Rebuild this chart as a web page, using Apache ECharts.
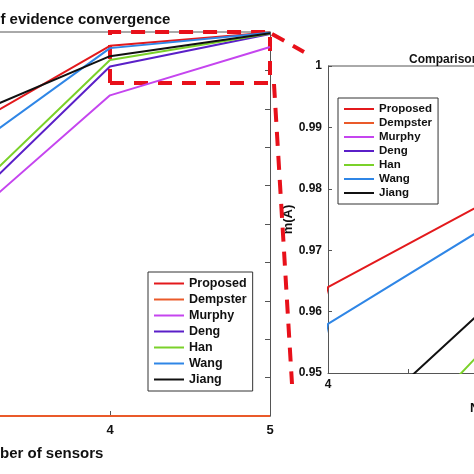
<!DOCTYPE html><html><head><meta charset="utf-8">
<script src="https://cdn.jsdelivr.net/npm/echarts@6/dist/echarts.min.js"></script>
<style>html,body{margin:0;padding:0;background:#fff}#c{width:474px;height:474px}</style></head><body><div id="c"></div>
<script>
const sensors=[2,3,4,5];
const names=['Proposed','Dempster','Murphy','Deng','Han','Wang','Jiang'];
const colors=['#e3191c','#ea5a2a','#c545ef','#5a1fc8','#7ad12a','#2f86e6','#111111'];
const proposed=[0.42,0.724,0.964,0.999];
const dempster=[0,0,0,0];
const murphy=[0.22,0.47,0.835,0.961];
const deng=[0.24,0.505,0.91,0.995];
const han=[0.25,0.526,0.927,0.996];
const wang=[0.36,0.656,0.958,0.998];
const jiang=[0.55,0.76,0.937,0.997];
const vals=[proposed,dempster,murphy,deng,han,wang,jiang];
const F='Liberation Sans';
const series=[];
vals.forEach((v,i)=>{
  [0,1].forEach(g=>{
    const s={name:names[i],type:'line',xAxisIndex:g,yAxisIndex:g*2,data:sensors.map((x,j)=>[x,v[j]]),
      symbol:'none',lineStyle:{width:2,color:colors[i]},itemStyle:{color:colors[i]},clip:true,z:g?3:2};
    if(i===1&&g===0){s.markArea={silent:true,itemStyle:{color:'rgba(0,0,0,0)',borderColor:'#e8101a',borderWidth:4,borderType:[14,10]},data:[[{coord:[4,0.867]},{coord:[5,1]}]]};}
    series.push(s);
  });
});
const chart=echarts.init(document.getElementById('c'));
const lg=(l,t)=>({orient:'vertical',left:l,top:t,data:names,backgroundColor:'#fff',borderColor:'#333',borderWidth:1,padding:[5,6],itemGap:2,itemWidth:30,itemHeight:2,icon:'rect',textStyle:{fontFamily:F,fontWeight:'bold',fontSize:11.5,color:'#111'}});
const axT={fontFamily:F,fontWeight:'bold',color:'#111'};
chart.setOption({
  animation:false,
  title:[{text:'Comparison of evidence convergence',left:30,textAlign:'center',top:7,textStyle:Object.assign({fontSize:15},axT)},
         {text:'Comparison of evidence convergence',left:404,top:49,textStyle:Object.assign({fontSize:12},axT)},
         {text:'Number of sensors',left:30,textAlign:'center',top:441,textStyle:Object.assign({fontSize:15},axT)},
         {text:'Number of sensors',left:465,top:397,textStyle:Object.assign({fontSize:13},axT)}],
  legend:[Object.assign(lg(148,272),{itemGap:3,textStyle:Object.assign({fontSize:12.5},axT)}),lg(338,98)],
  grid:[{left:0,right:204,top:32,bottom:58},{left:328,right:0,top:66,bottom:101}],
  xAxis:[{gridIndex:0,type:'value',min:3.3125,max:5,name:'',
      axisLine:{onZero:false,lineStyle:{color:'#555'}},axisTick:{inside:true,length:5,customValues:[4,5],lineStyle:{color:'#555'}},splitLine:{show:false},
      axisLabel:{fontFamily:F,fontSize:13,fontWeight:'bold',color:'#111',margin:8,customValues:[4,5]}},
    {gridIndex:1,type:'value',min:4,max:4.365,name:'',
      axisLine:{onZero:false,lineStyle:{color:'#555'}},axisTick:{inside:true,length:4,customValues:[4,4.2],lineStyle:{color:'#555'}},splitLine:{show:false},
      axisLabel:{fontFamily:F,fontSize:12,fontWeight:'bold',color:'#111',margin:6,customValues:[4]}}],
  yAxis:[{gridIndex:0,type:'value',min:0,max:1,interval:0.1,position:'left',axisLine:{show:false},axisTick:{show:false},splitLine:{show:false},axisLabel:{show:false}},
    {gridIndex:0,type:'value',min:0,max:1,interval:0.1,position:'right',axisLine:{show:true,lineStyle:{color:'#555'}},axisTick:{inside:true,length:5,lineStyle:{color:'#555'}},splitLine:{show:false},axisLabel:{show:false}},
    {gridIndex:1,type:'value',min:0.95,max:1,interval:0.01,name:'m(A)',nameLocation:'middle',nameGap:33,
      nameTextStyle:{fontFamily:F,fontSize:13,fontWeight:'bold',color:'#111'},
      axisLine:{show:true,lineStyle:{color:'#555'}},axisTick:{inside:true,length:4,lineStyle:{color:'#555'}},splitLine:{show:false},
      axisLabel:{fontFamily:F,fontSize:12,fontWeight:'bold',color:'#111',margin:6,formatter:v=>String(+v.toFixed(2))}}],
  graphic:[
    {type:'line',shape:{x1:0,y1:32,x2:270,y2:32},style:{stroke:'#555',lineWidth:1},z:1},
    {type:'line',shape:{x1:328,y1:66,x2:474,y2:66},style:{stroke:'#555',lineWidth:1},z:1},
    {type:'line',shape:{x1:272,y1:34,x2:304,y2:52},style:{stroke:'#e8101a',lineWidth:4,lineDash:[14,10]},z:10},
    {type:'line',shape:{x1:274,y1:84,x2:292,y2:384},style:{stroke:'#e8101a',lineWidth:4,lineDash:[14,10]},z:10}
  ],
  series:series
});
</script></body></html>
